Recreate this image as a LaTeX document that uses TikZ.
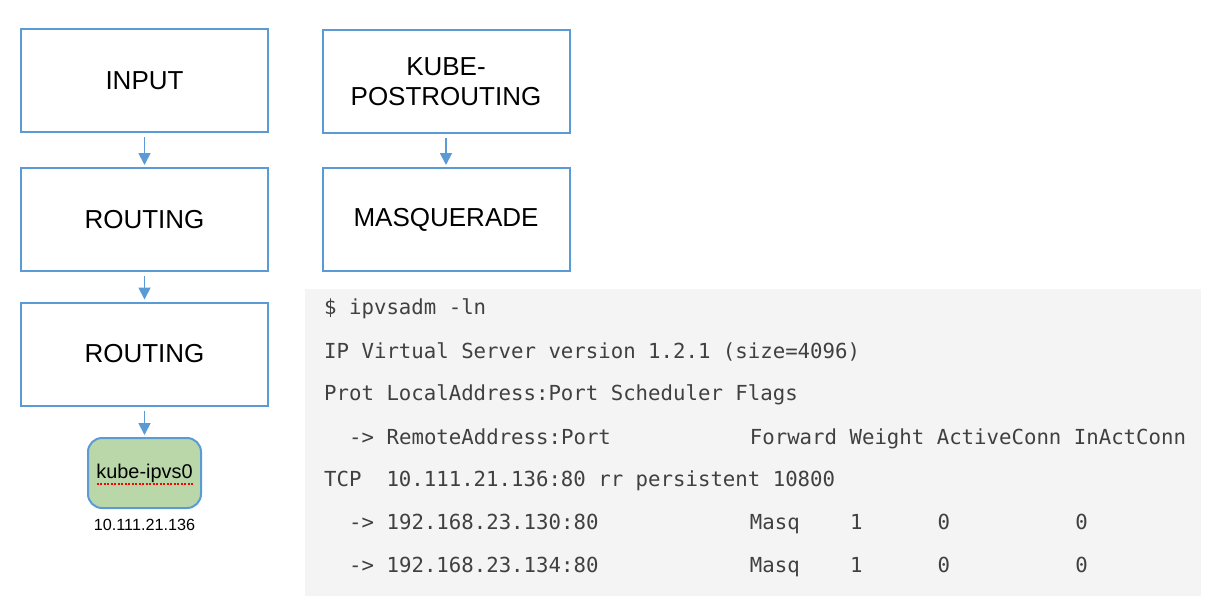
\documentclass[tikz,border=0pt]{standalone}
\usepackage{fontspec}
\setmainfont{Liberation Sans}
\newfontfamily\codefont{DejaVu Sans Mono}
\usetikzlibrary{arrows.meta}
\definecolor{lineblue}{HTML}{5B9BD5}
\definecolor{nodegreen}{HTML}{B9D7A8}
\definecolor{panelgray}{HTML}{F4F4F4}
\definecolor{codegray}{HTML}{404040}
\begin{document}
\begin{tikzpicture}[x=1pt,y=-1pt,
  chainbox/.style={draw=lineblue, line width=2pt, fill=white, minimum width=247pt, minimum height=103pt, align=center, font=\fontsize{26}{29}\selectfont, inner sep=0pt},
  flow/.style={draw=lineblue, line width=1.8pt, -{Triangle[length=12pt,width=12pt]}, shorten <=4pt, shorten >=2pt},
  code/.style={anchor=base west, inner sep=0pt, text=codegray, font=\codefont\fontsize{20.7}{24}\selectfont}
]
\useasboundingbox (0,0) rectangle (1220,614);
% left chain
\node[chainbox] (input) at (144.5,80.5) {INPUT};
\node[chainbox] (routing1) at (144.5,219.5) {ROUTING};
\node[chainbox] (routing2) at (144.5,354) {ROUTING};
\node[draw=lineblue, line width=2pt, fill=nodegreen, rounded corners=14pt, minimum width=113pt, minimum height=70pt, inner sep=0pt, font=\fontsize{19.9}{22}\selectfont] (ipvs) at (144.5,473) {kube-ipvs0};
\draw[red, line width=1.3pt, dash pattern=on 2pt off 1.5pt] ([xshift=-48pt,yshift=-11pt]ipvs.center) coordinate (ul1) -- ([xshift=48pt,yshift=-11pt]ipvs.center) coordinate (ul2);
\node[font=\fontsize{16.2}{18}\selectfont, inner sep=0pt] (ip) at (144.5,525) {10.111.21.136};
\draw[flow] (input) -- (routing1);
\draw[flow] (routing1) -- (routing2);
\draw[flow] (routing2) -- (ipvs);
% right chain
\node[chainbox] (kube) at (446,81.5) {KUBE-\\[1pt]POSTROUTING};
\node[chainbox] (masq) at (446,219.5) {MASQUERADE};
\draw[flow] (kube) -- (masq);
% panel
\fill[panelgray] (305,289) rectangle (1201,596);
\def\cw{12.52}
\def\cx{324}
\node[code] (l1) at (\cx,314) {\$ ipvsadm -ln};
\node[code] (l2) at (\cx,358) {IP Virtual Server version 1.2.1 (size=4096)};
\node[code] (l3) at (\cx,400) {Prot LocalAddress:Port Scheduler Flags};
\node[code] (l4a) at (\cx+2*\cw,444) {-> RemoteAddress:Port};
\node[code] (l4b) at (\cx+34*\cw,444) {Forward Weight ActiveConn InActConn};
\node[code] (l5) at (\cx,486) {TCP\ \ 10.111.21.136:80 rr persistent 10800};
\node[code] (l6a) at (\cx+2*\cw,529) {-> 192.168.23.130:80};
\node[code] (l6b) at (\cx+34*\cw,529) {Masq};
\node[code] (l6c) at (\cx+42*\cw,529) {1};
\node[code] (l6d) at (\cx+49*\cw,529) {0};
\node[code] (l6e) at (\cx+60*\cw,529) {0};
\node[code] (l7a) at (\cx+2*\cw,572) {-> 192.168.23.134:80};
\node[code] (l7b) at (\cx+34*\cw,572) {Masq};
\node[code] (l7c) at (\cx+42*\cw,572) {1};
\node[code] (l7d) at (\cx+49*\cw,572) {0};
\node[code] (l7e) at (\cx+60*\cw,572) {0};
\end{tikzpicture}
\end{document}
